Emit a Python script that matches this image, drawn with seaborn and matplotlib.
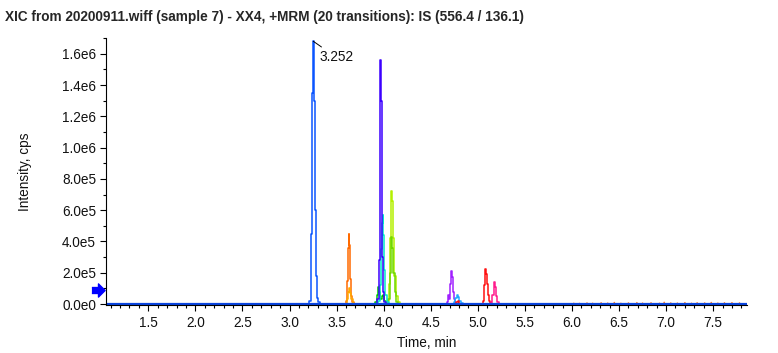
import numpy as np
import pandas as pd
import matplotlib
matplotlib.use('Agg')
import matplotlib.pyplot as plt
from matplotlib.ticker import MultipleLocator, FuncFormatter
import seaborn as sns

sns.set_style("ticks")
plt.rcParams['font.family'] = ['Liberation Sans', 'DejaVu Sans']

# retention time (min) / intensity (cps) samples
is_t = [1.05, 3.20, 3.222, 3.232, 3.242, 3.252, 3.262, 3.272, 3.282, 3.295, 3.31, 3.34, 7.86]
is_y = [0, 0, 2e4, 4.5e5, 1.35e6, 1.68e6, 1.3e6, 6e5, 1.8e5, 4e4, 1e4, 0, 0]

orange_t = [3.59, 3.605, 3.615, 3.625, 3.632, 3.64, 3.65, 3.66, 3.675, 3.69]
orange_y = [0, 2e4, 1.5e5, 3.6e5, 4.45e5, 3.8e5, 1.6e5, 5e4, 1e4, 0]

amber_t = [3.60, 3.615, 3.625, 3.635, 3.645, 3.66, 3.68, 3.70]
amber_y = [0, 3e4, 8e4, 1.0e5, 7e4, 3e4, 8e3, 0]

violet_t = [3.92, 3.94, 3.955, 3.962, 3.968, 3.975, 3.982, 3.99, 4.00, 4.015, 4.03]
violet_y = [0, 3e4, 2.8e5, 9.5e5, 1.56e6, 1.3e6, 7.5e5, 3e5, 8e4, 1e4, 0]

cyan_t = [3.93, 3.95, 3.965, 3.975, 3.985, 3.992, 4.00, 4.01, 4.025, 4.045, 4.06]
cyan_y = [0, 2e4, 1.2e5, 3.5e5, 5.2e5, 5.7e5, 4.4e5, 2.2e5, 6e4, 1e4, 0]

green_t = [3.90, 3.925, 3.94, 3.95, 3.96, 3.97, 3.985, 4.00, 4.01, 4.03]
green_y = [0, 1e4, 6e4, 1.1e5, 8e4, 3e4, 5e4, 6e4, 2e4, 0]

lime_t = [4.03, 4.05, 4.065, 4.077, 4.088, 4.097, 4.107, 4.12, 4.14, 4.16, 4.18]
lime_y = [0, 2e4, 1.3e5, 4.2e5, 7.2e5, 6.6e5, 4.2e5, 1.8e5, 5e4, 1e4, 0]

chart_t = [4.04, 4.06, 4.075, 4.088, 4.098, 4.11, 4.125, 4.145, 4.17]
chart_y = [0, 3e4, 2e5, 4.3e5, 3.6e5, 2e5, 8e4, 1.5e4, 0]

purple_t = [4.66, 4.68, 4.69, 4.70, 4.71, 4.72, 4.73, 4.74, 4.75, 4.765, 4.78]
purple_y = [0, 1e4, 6e4, 3e4, 1.3e5, 2.1e5, 1.7e5, 8e4, 3e4, 8e3, 0]

sky_t = [4.73, 4.755, 4.77, 4.782, 4.795, 4.81, 4.83, 4.85]
sky_y = [0, 1e4, 4e4, 6e4, 4.5e4, 2e4, 5e3, 0]

red_t = [4.76, 4.78, 4.79, 4.80, 5.04, 5.06, 5.075, 5.085, 5.093, 5.10, 5.11, 5.125, 5.14, 5.16]
red_y = [0, 1.2e4, 2e4, 0, 0, 2e4, 1.2e5, 2.23e5, 1.9e5, 1.3e5, 6e4, 2e4, 5e3, 0]

pink_t = [5.13, 5.15, 5.162, 5.172, 5.182, 5.19, 5.20, 5.215, 5.235]
pink_y = [0, 1.5e4, 6e4, 1.2e5, 1.38e5, 1.1e5, 5e4, 1e4, 0]

noise_t = [6.02, 6.08, 6.16, 6.22, 6.31, 6.38, 6.45, 6.52, 6.60, 6.69, 6.75, 6.84,
           6.93, 6.98, 7.05, 7.12, 7.20, 7.27, 7.33, 7.41, 7.48, 7.55, 7.62, 7.70, 7.78]
noise_y = [6e3, 5e3, 8e3, 6e3, 9e3, 7e3, 1.1e4, 6e3, 8e3, 1e4, 7e3, 9e3,
           6e3, 1.2e4, 8e3, 7e3, 1e4, 6e3, 9e3, 8e3, 1.1e4, 7e3, 9e3, 1e4, 8e3]

traces = [
    ('IS', is_t, is_y, '#0a55ff'),
    ('orange', orange_t, orange_y, '#ff6a00'),
    ('amber', amber_t, amber_y, '#ffa800'),
    ('green', green_t, green_y, '#00c800'),
    ('lime', lime_t, lime_y, '#b4f000'),
    ('chartreuse', chart_t, chart_y, '#70d800'),
    ('cyan', cyan_t, cyan_y, '#00e8c8'),
    ('violet', violet_t, violet_y, '#3c00ff'),
    ('purple', purple_t, purple_y, '#a020ff'),
    ('sky', sky_t, sky_y, '#20a8ff'),
    ('red', red_t, red_y, '#ff1010'),
    ('pink', pink_t, pink_y, '#ff1a8c'),
]

fig = plt.figure(figsize=(7.78, 3.53), dpi=100)
ax = fig.add_axes([0.1362, 0.136, 0.824, 0.756])

for name, t, y, c in traces:
    df = pd.DataFrame({'t': t, 'y': y})
    sns.lineplot(data=df, x='t', y='y', color=c, lw=1.1, ax=ax, sort=False,
                 drawstyle='steps-mid')

# noise spikes at the tail
for t, y in zip(noise_t, noise_y):
    ax.plot([t - 0.008, t, t + 0.008], [0, y, 0], color='#ff7a20', lw=0.9)

# baseline
ax.plot([1.05, 7.86], [0, 0], color='#0a45e0', lw=1.6)

ax.set_xlim(1.05, 7.86)
ax.set_ylim(-6e3, 1.70e6)

ax.xaxis.set_major_locator(MultipleLocator(0.5))
ax.xaxis.set_minor_locator(MultipleLocator(0.1))
ax.yaxis.set_major_locator(MultipleLocator(2e5))
ax.yaxis.set_minor_locator(MultipleLocator(1e5))

def sci(v, pos):
    if v == 0:
        return '0.0e0'
    e = int(np.floor(np.log10(abs(v))))
    return f'{v / 10**e:.1f}e{e}'

ax.yaxis.set_major_formatter(FuncFormatter(sci))
ax.xaxis.set_major_formatter(FuncFormatter(lambda v, p: f'{v:.1f}'))
ax.set_xticks([1.5, 2.0, 2.5, 3.0, 3.5, 4.0, 4.5, 5.0, 5.5, 6.0, 6.5, 7.0, 7.5])

ax.tick_params(axis='both', which='major', length=4, width=0.8, labelsize=9.8,
               color='black', labelcolor='#111111')
ax.tick_params(axis='x', which='major', pad=4)
ax.tick_params(axis='y', which='major', pad=3)
ax.tick_params(axis='both', which='minor', length=2, width=0.8, color='black')
sns.despine(ax=ax)
for s in ['left', 'bottom']:
    ax.spines[s].set_color('black')
    ax.spines[s].set_linewidth(0.8)

ax.set_xlabel('Time, min', fontsize=9.8, labelpad=4, color='#111111')
ax.set_ylabel('Intensity, cps', fontsize=9.8, labelpad=22, color='#111111')

fig.text(0.007, 0.952, 'XIC from 20200911.wiff (sample 7) - XX4, +MRM (20 transitions): IS (556.4 / 136.1)',
         fontsize=9.8, fontweight='bold', ha='left', va='center')

# apex label
ax.annotate('3.252', xy=(3.252, 1.68e6), xytext=(6, -16), textcoords='offset pixels',
            fontsize=9.8, ha='left', va='center', color='#111111',
            arrowprops=dict(arrowstyle='-', color='black', lw=0.7, shrinkA=0, shrinkB=0))

# blue threshold arrow at left of the y axis
arrow = [(-1, 0.45), (0, 0.45), (0, 1), (1, 0), (0, -1), (0, -0.45), (-1, -0.45)]
ax.scatter([-0.012], [0.9e5], marker=arrow, s=90, color='#0000ff',
           transform=ax.get_yaxis_transform(), clip_on=False, zorder=5)

fig.savefig('out.png', dpi=100)
